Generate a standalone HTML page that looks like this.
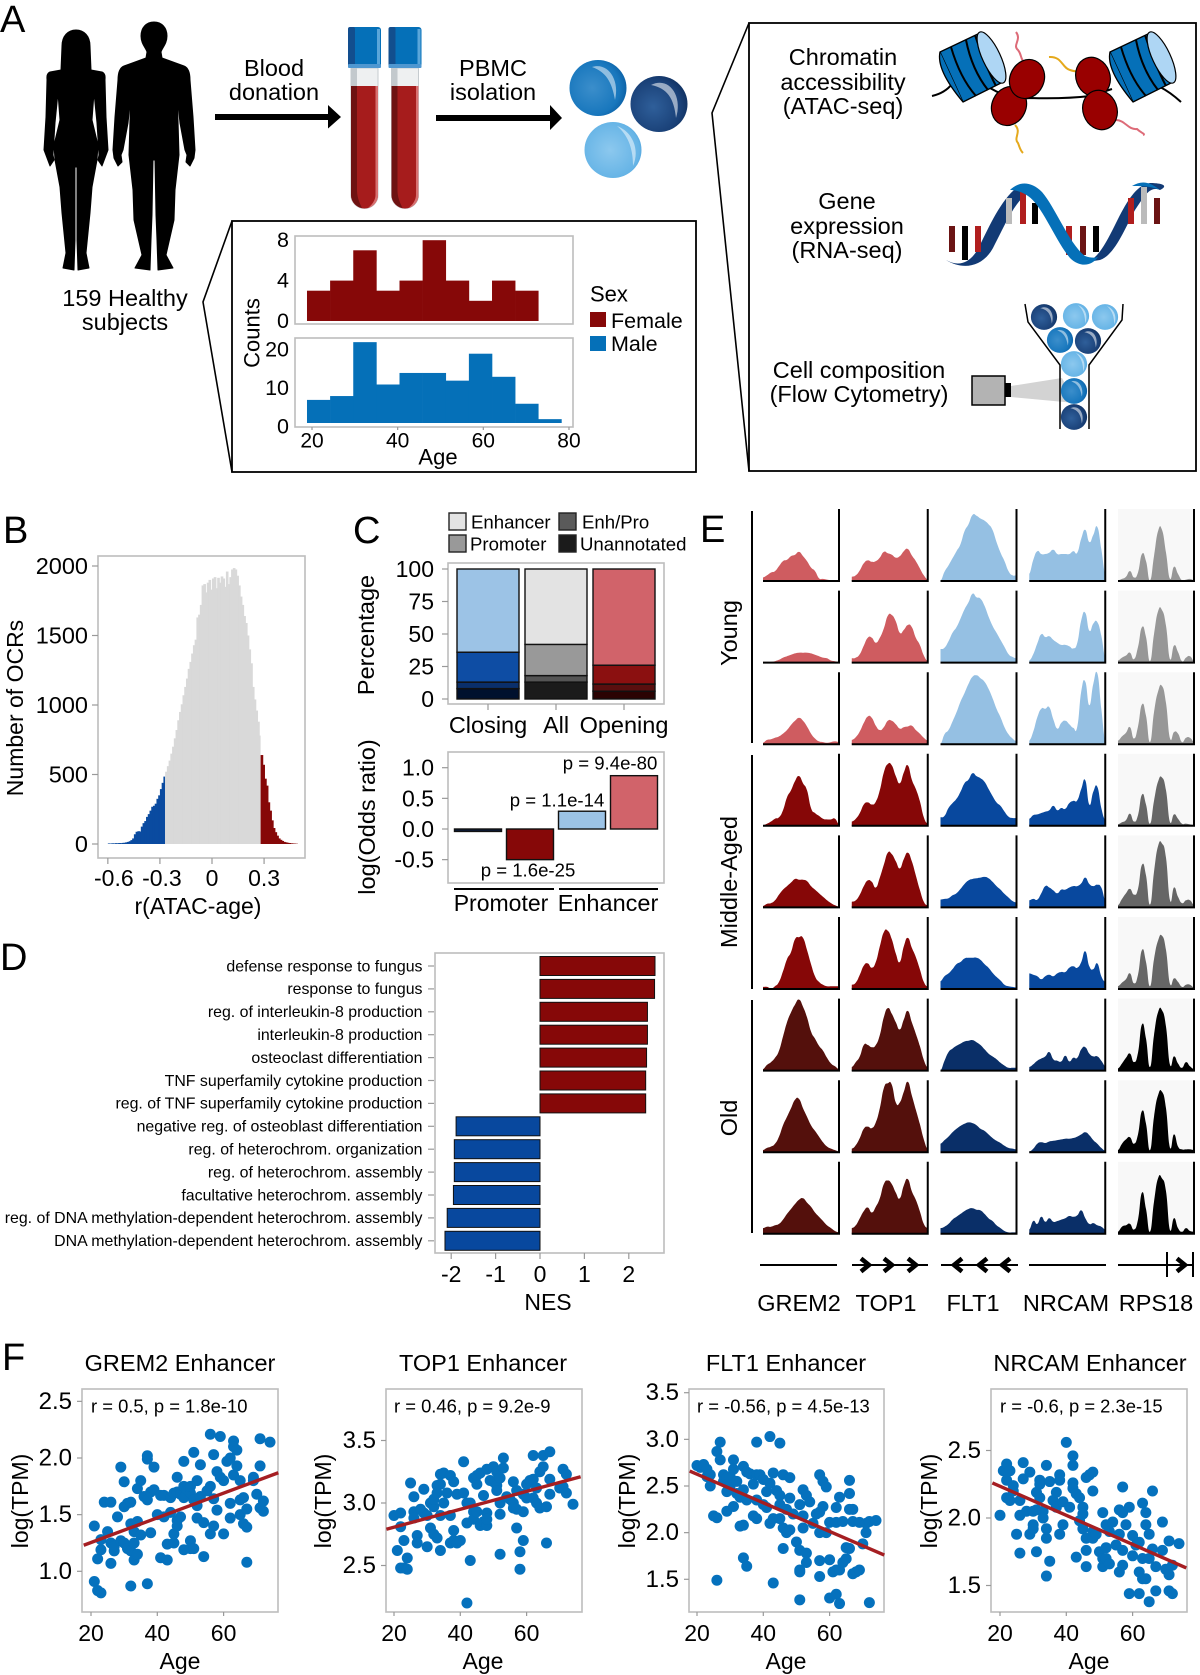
<!DOCTYPE html>
<html lang="en">
<head>
<meta charset="utf-8">
<title>Multi-panel aging epigenomics figure</title>
<style>
html,body{margin:0;padding:0;background:#fff;}
svg{display:block;font-family:"Liberation Sans",Arial,Helvetica,sans-serif;fill:#000;}
text{dominant-baseline:central;}
.pl{font-size:38px;}
.t{font-size:23.5px;text-anchor:middle;}
.s{font-size:18.6px;}
.f{fill:none;stroke:#bdbdbd;stroke-width:1.6;}
</style>
</head>
<body>
<svg id="fig" xmlns="http://www.w3.org/2000/svg" width="1200" height="1675" viewBox="0 0 1200 1675">
<defs>
<radialGradient id="gMid" cx="40%" cy="50%" r="60%"><stop offset="0" stop-color="#3b8ecb"/><stop offset="0.8" stop-color="#1877bd"/><stop offset="1" stop-color="#0d63a8"/></radialGradient>
<radialGradient id="gDark" cx="40%" cy="55%" r="60%"><stop offset="0" stop-color="#2f5f9a"/><stop offset="0.8" stop-color="#1a4178"/><stop offset="1" stop-color="#123465"/></radialGradient>
<radialGradient id="gLight" cx="45%" cy="50%" r="60%"><stop offset="0" stop-color="#8cc8ee"/><stop offset="0.85" stop-color="#66b4e6"/><stop offset="1" stop-color="#4a9fda"/></radialGradient>
<g id="cell-mid"><ellipse rx="28.5" ry="28" fill="url(#gMid)"/><path d="M-6,-21 C10,-26 22,-8 17,12 C14,-6 8,-16 -6,-21Z" fill="#fff" opacity=".5"/></g>
<g id="cell-dark"><ellipse rx="28.5" ry="28" fill="url(#gDark)"/><path d="M-8,-19 C10,-28 24,-8 17,14 C15,-6 8,-16 -8,-19Z" fill="#fff" opacity=".55"/></g>
<g id="cell-light"><ellipse rx="28.5" ry="28" fill="url(#gLight)"/><path d="M4,-24 C20,-18 27,0 20,16 C20,0 16,-14 4,-24Z" fill="#fff" opacity=".5"/></g>
<g id="tube">
<path d="M351,68 V195 A13.5,13.5 0 0 0 378,195 V68 Z" fill="#eef0f1" stroke="#c5cbcf" stroke-width="1"/>
<rect x="351" y="68" width="6" height="18" fill="#c3c9cd"/>
<path d="M351,86 V195 A13.5,13.5 0 0 0 378,195 V86 Z" fill="#a61c1c"/>
<path d="M351,86 V195 A13.5,13.5 0 0 0 362,208 C358,200 357,195 357,190 V86 Z" fill="#6e1212"/>
<path d="M375.5,86 V195 C375.5,200 372,205 368,208 A13.5,13.5 0 0 0 378,195 V86 Z" fill="#d87070"/>
<rect x="348" y="27" width="33" height="41" rx="3" fill="#0570b8"/>
<rect x="348" y="27" width="7" height="41" rx="2" fill="#124e8e"/>
<rect x="377" y="29" width="3" height="36" fill="#5aa6da"/>
<rect x="348" y="64" width="33" height="4" rx="1" fill="#4f97d0"/>
</g>
<g id="nucleosome">
<polygon points="940,52 980,33 1003,82 963,102" fill="#0570b8" stroke="#000" stroke-width="1.3" stroke-linejoin="round"/>
<path d="M940,52 Q936,70 963,102" fill="#0570b8" stroke="#000" stroke-width="1.3"/>
<path d="M951,47 Q960,78 976,96 M966,40 Q972,70 988,90 M975,35 Q985,65 996,86" fill="none" stroke="#000" stroke-width="2"/>
<ellipse cx="991.5" cy="57.5" rx="9" ry="28" transform="rotate(-25 991.5 57.5)" fill="#aed6f4" stroke="#000" stroke-width="1.2"/>
</g>
</defs>

<!-- PANEL A -->
<g>
<text class="pl" x="0" y="20">A</text>
<path fill="#000" stroke="#000" stroke-linejoin="round" d="M76,30 C68,30 62,36 62,46 L61,70 L50,72 C46,74 47,78 47,80 L46,117 L44,150 L47,158 L50,166 L54,160 L53,155 L55,123 L58,93 L60,120 L54,145 L55,160 L60,187 L62,213 L66,253 L63,268 L74,270 L75,240 L75,167 L77,167 L77,240 L78,270 L89,268 L86,253 L90,213 L92,187 L97,160 L98,145 L92,120 L94,93 L97,123 L99,155 L98,160 L102,166 L105,158 L108,150 L106,117 L105,80 C105,78 106,74 102,72 L91,70 L90,46 C90,36 84,30 76,30Z"/>
<path fill="#000" stroke="#000" stroke-linejoin="round" d="M154,22 C146,22 141,28 141,36 C141,44 146,48 147,52 L146,58 L124,66 C119,68 118,74 118,80 L115,117 L113,150 L114,158 L118,166 L122,162 L121,155 L123,150 L128,123 L131,95 L130,120 L129,155 L133,190 L134,220 L142,255 L135,268 L150,270 L151,240 L152,215 L153,160 L155,160 L156,215 L157,240 L158,270 L173,268 L166,255 L174,220 L175,190 L179,155 L178,120 L177,95 L180,123 L185,150 L187,155 L186,162 L190,166 L194,158 L195,150 L193,117 L190,80 C190,74 189,68 184,66 L162,58 L161,52 C162,48 167,44 167,36 C167,28 162,22 154,22Z"/>
<text class="t" x="125" y="298">159 Healthy</text>
<text class="t" x="125" y="322">subjects</text>
<path d="M215,114 H328 V105 L341,117 L328,128.500 V120 H215Z" fill="#000"/>
<text class="t" x="274" y="68">Blood</text>
<text class="t" x="274" y="92">donation</text>
<use href="#tube"/>
<use href="#tube" x="40.500"/>
<path d="M436,115 H550 V105 L562,118 L550,130 V121 H436Z" fill="#000"/>
<text class="t" x="493" y="68">PBMC</text>
<text class="t" x="493" y="92">isolation</text>
<use href="#cell-mid" x="598" y="88"/>
<use href="#cell-dark" x="659" y="104"/>
<use href="#cell-light" x="613" y="150"/>
<polyline points="232,221 203,302 232,472" fill="none" stroke="#000" stroke-width="1.6"/>
<rect x="232" y="221" width="464" height="251" fill="none" stroke="#000" stroke-width="1.8"/>
<rect class="f" x="295" y="236" width="278" height="88"/>
<rect class="f" x="295" y="338" width="278" height="89"/>
<g id="ageHist"></g>
<text x="252" y="333" transform="rotate(-90 252 333)" style="font-size:22px;text-anchor:middle">Counts</text>
<text x="438" y="457" style="font-size:22px;text-anchor:middle">Age</text>
<text x="590" y="294" style="font-size:22px">Sex</text>
<rect x="590" y="312" width="16" height="15" fill="#860808"/>
<text x="611" y="321" style="font-size:21.500px">Female</text>
<rect x="590" y="336" width="16" height="15" fill="#0570b8"/>
<text x="611" y="344" style="font-size:21.500px">Male</text>

<polyline points="749,23 712,113 749,471" fill="none" stroke="#000" stroke-width="1.6"/>
<rect x="749" y="23" width="447" height="448" fill="none" stroke="#000" stroke-width="1.8"/>
<text class="t" x="843" y="57">Chromatin</text>
<text class="t" x="843" y="82">accessibility</text>
<text class="t" x="843" y="106">(ATAC-seq)</text>
<text class="t" x="847" y="201">Gene</text>
<text class="t" x="847" y="226">expression</text>
<text class="t" x="847" y="250">(RNA-seq)</text>
<text class="t" x="859" y="370">Cell composition</text>
<text class="t" x="859" y="394">(Flow Cytometry)</text>

<g>
<path d="M932,96 Q945,93 952,84 M990,88 Q1010,100 1030,98 Q1065,99 1090,96 L1112,89 M1160,87 Q1170,92 1181,102" fill="none" stroke="#000" stroke-width="2"/>
<use href="#nucleosome"/>
<use href="#nucleosome" x="170"/>
<path d="M1016,32 C1022,40 1012,45 1018,50 C1022,55 1020,58 1024,62" fill="none" stroke="#dd6b78" stroke-width="2"/>
<path d="M1049,57 C1062,56 1062,68 1070,70 C1076,72 1078,71 1076,71" fill="none" stroke="#e5a91c" stroke-width="2"/>
<path d="M1015,125 C1022,132 1013,138 1018,143 C1020,148 1020,150 1023,153" fill="none" stroke="#e5a91c" stroke-width="2"/>
<path d="M1116,120 C1125,120 1128,130 1137,129 C1141,133 1146,134 1143,135" fill="none" stroke="#dd6b78" stroke-width="2"/>
<ellipse cx="1009" cy="106" rx="17" ry="20" transform="rotate(25 1009 106)" fill="#990000" stroke="#000" stroke-width="1.2"/>
<ellipse cx="1027" cy="79" rx="17" ry="20" transform="rotate(25 1027 79)" fill="#990000" stroke="#000" stroke-width="1.2"/>
<ellipse cx="1093" cy="77" rx="17" ry="20" transform="rotate(-20 1093 77)" fill="#990000" stroke="#000" stroke-width="1.2"/>
<ellipse cx="1100" cy="110" rx="17" ry="20" transform="rotate(-20 1100 110)" fill="#990000" stroke="#000" stroke-width="1.2"/>
</g>
<g>
<path d="M946,260 C960,268 972,262 980,245 C990,225 1003,195 1022,184 L1030,192 C1015,200 1005,225 993,248 C982,268 962,270 946,260Z" fill="#123a75"/>
<path d="M1087,262 C1098,258 1105,245 1115,225 C1125,205 1135,185 1150,183 C1160,183 1170,185 1160,190 C1150,186 1145,195 1135,210 C1125,228 1115,255 1100,260Z" fill="#123a75"/>
<g stroke-width="6" fill="none">
<path d="M952,226 V252" stroke="#6b1414"/><path d="M965,226 V260" stroke="#000"/><path d="M978,226 V252" stroke="#b01e1e"/>
<path d="M1009,198 V224" stroke="#bbb"/><path d="M1023,190 V224" stroke="#b01e1e"/><path d="M1035,203 V224" stroke="#000"/>
<path d="M1069,226 V255" stroke="#b01e1e"/><path d="M1083,226 V255" stroke="#6b1414"/><path d="M1096,226 V252" stroke="#000"/>
<path d="M1131,198 V224" stroke="#b01e1e"/><path d="M1144,187 V224" stroke="#bbb"/><path d="M1157,198 V224" stroke="#6b1414"/>
</g>
<path d="M1010,190 C1018,182 1030,180 1042,192 C1055,207 1070,245 1085,256 C1090,258 1095,258 1098,257 C1092,266 1080,268 1070,258 C1055,240 1042,205 1028,196 C1022,192 1016,190 1010,190Z" fill="#0570b8"/>
<path d="M1132,186 C1142,180 1150,182 1160,190 C1150,186 1140,186 1132,186Z" fill="#0570b8"/>
</g>
<g>
<polygon points="1011,386 1062,378 1075,403 1011,397" fill="#d3d3d3"/>
<rect x="972" y="376" width="33" height="29" fill="#b3b3b3" stroke="#000" stroke-width="1.5"/>
<rect x="1005" y="383" width="6" height="14" fill="#000"/>
<polyline points="1025,304 1028,322 1060,365 1060,429" fill="none" stroke="#000" stroke-width="1.5"/>
<polyline points="1123,304 1122,320 1089,365 1089,429" fill="none" stroke="#000" stroke-width="1.5"/>
<use href="#cell-dark" transform="translate(1044,317) scale(.46)"/>
<use href="#cell-light" transform="translate(1076,316) scale(.46)"/>
<use href="#cell-light" transform="translate(1105,317) scale(.46)"/>
<use href="#cell-mid" transform="translate(1060,340) scale(.46)"/>
<use href="#cell-dark" transform="translate(1088,341) scale(.46)"/>
<use href="#cell-light" transform="translate(1074,364) scale(.46)"/>
<use href="#cell-mid" transform="translate(1074,391) scale(.46)"/>
<use href="#cell-dark" transform="translate(1074,417) scale(.46)"/>
</g>
</g>

<!-- PANEL B -->
<g>
<text class="pl" x="3" y="531">B</text>
<rect class="f" x="98" y="556" width="207" height="302"/>
<g id="corrHist"></g>
<text x="15" y="708" transform="rotate(-90 15 708)" style="font-size:23px;text-anchor:middle">Number of OCRs</text>
<text x="198" y="906" style="font-size:23px;text-anchor:middle">r(ATAC-age)</text>
</g>

<!-- PANEL C -->
<g>
<text class="pl" x="353" y="531">C</text>
<rect x="449" y="513" width="17" height="17" fill="#e3e3e3" stroke="#222" stroke-width="1.4"/>
<text class="s" x="471" y="522">Enhancer</text>
<rect x="449" y="535" width="17" height="17" fill="#999" stroke="#222" stroke-width="1.4"/>
<text class="s" x="470" y="544">Promoter</text>
<rect x="559" y="513" width="17" height="17" fill="#5a5a5a" stroke="#222" stroke-width="1.4"/>
<text class="s" x="582" y="522">Enh/Pro</text>
<rect x="559" y="535" width="17" height="17" fill="#1b1b1b" stroke="#222" stroke-width="1.4"/>
<text class="s" x="580" y="544">Unannotated</text>
<rect class="f" x="448" y="563" width="216" height="141"/>
<g id="pctChart"></g>
<text x="366" y="635" transform="rotate(-90 366 635)" style="font-size:23.500px;text-anchor:middle">Percentage</text>
<rect class="f" x="448" y="752" width="216" height="131"/>
<g id="oddsChart"></g>
<text x="367" y="817" transform="rotate(-90 367 817)" style="font-size:23.500px;text-anchor:middle">log(Odds ratio)</text>
<text class="s" x="610" y="763" style="text-anchor:middle">p = 9.4e-80</text>
<text class="s" x="557" y="800" style="text-anchor:middle">p = 1.1e-14</text>
<text class="s" x="528" y="870" style="text-anchor:middle">p = 1.6e-25</text>
<path d="M454,889 H554" stroke="#000" stroke-width="2"/>
<path d="M559,889 H658" stroke="#000" stroke-width="2"/>
<text x="501" y="903" style="font-size:23px;text-anchor:middle">Promoter</text>
<text x="608" y="903" style="font-size:23.500px;text-anchor:middle">Enhancer</text>
</g>

<!-- PANEL D -->
<g>
<text class="pl" x="0" y="958">D</text>
<rect class="f" x="435" y="953" width="229" height="300"/>
<g id="nesChart"></g>
<text x="548" y="1302" style="font-size:23px;text-anchor:middle">NES</text>
</g>

<!-- PANEL E -->
<g>
<text class="pl" x="700" y="530">E</text>
<path d="M752,511 V743" stroke="#000" stroke-width="2"/>
<path d="M752,755 V989" stroke="#000" stroke-width="2"/>
<path d="M752,1000 V1233" stroke="#000" stroke-width="2"/>
<text x="729" y="633" transform="rotate(-90 729 633)" style="font-size:23.500px;text-anchor:middle">Young</text>
<text x="729" y="882" transform="rotate(-90 729 882)" style="font-size:23.500px;text-anchor:middle">Middle-Aged</text>
<text x="729" y="1118" transform="rotate(-90 729 1118)" style="font-size:23.500px;text-anchor:middle">Old</text>
<g id="tracks"></g>
<g fill="none" stroke="#000">
<path d="M760,1265 H837" stroke-width="2"/>
<path d="M852,1265 H928" stroke-width="2"/>
<path d="M861,1258.500 L869,1265 L861,1271.500 M884,1258.500 L892,1265 L884,1271.500 M908,1258.500 L916,1265 L908,1271.500" stroke-width="4.500"/>
<path d="M941,1265 H1018" stroke-width="2"/>
<path d="M962,1258.500 L954,1265 L962,1271.500 M987,1258.500 L979,1265 L987,1271.500 M1010,1258.500 L1002,1265 L1010,1271.500" stroke-width="4.500"/>
<path d="M1029,1265 H1106" stroke-width="2"/>
<path d="M1118,1265 H1193 M1167,1252 V1277 M1193,1252 V1277" stroke-width="2"/>
<path d="M1177,1258.500 L1185,1265 L1177,1271.500" stroke-width="4.500"/>
</g>
<text x="799" y="1303" style="font-size:23.500px;text-anchor:middle">GREM2</text>
<text x="886" y="1303" style="font-size:23.500px;text-anchor:middle">TOP1</text>
<text x="973" y="1303" style="font-size:23.500px;text-anchor:middle">FLT1</text>
<text x="1066" y="1303" style="font-size:23.500px;text-anchor:middle">NRCAM</text>
<text x="1156" y="1303" style="font-size:23.500px;text-anchor:middle">RPS18</text>
</g>

<!-- PANEL F -->
<g>
<text class="pl" x="2" y="1358">F</text>
<g id="scatters"></g>
<text x="180" y="1363" style="font-size:23.500px;text-anchor:middle">GREM2 Enhancer</text>
<text x="483" y="1363" style="font-size:23.500px;text-anchor:middle">TOP1 Enhancer</text>
<text x="786" y="1363" style="font-size:23.500px;text-anchor:middle">FLT1 Enhancer</text>
<text x="1090" y="1363" style="font-size:23.500px;text-anchor:middle">NRCAM Enhancer</text>
<text x="91" y="1406" style="font-size:18.400px">r = 0.5, p = 1.8e-10</text>
<text x="394" y="1406" style="font-size:18.400px">r = 0.46, p = 9.2e-9</text>
<text x="697" y="1406" style="font-size:18.400px">r = -0.56, p = 4.5e-13</text>
<text x="1000" y="1406" style="font-size:18.400px">r = -0.6, p = 2.3e-15</text>
</g>
</svg>

<script>
// ---------- Panel A data ----------
const femaleCounts = [3,4,7,3,4,8,4,2,4,3];
const maleCounts = [6,7,21,10,13,13,11,18,12,5,1];
const ageBinStart = 18.83;
const ageBinWidth = 5.4;
const ageTicks = [20,40,60,80];
const femaleTicks = [0,4,8];
const maleTicks = [0,10,20];

// ---------- Panel B data (bins of 0.01 from r = -0.60) ----------
const corrBinStart = -0.60;
const corrBinWidth = 0.01;
const corrCounts = [
4,3,5,4,6,5,7,6,8,9,
12,15,20,28,40,
70,88,92,90,125,
150,165,195,215,240,
268,275,290,325,350,
395,440,485,
520,560,600,650,700,760,820,890,
950,1005,1070,1130,1190,1260,1310,1370,1430,1470,
1630,1650,1720,1860,1870,
1810,1880,1900,1830,1910,1920,1840,1915,1880,1925,
1910,1850,1960,1870,1920,1975,1985,1975,1930,1860,
1780,1720,1640,1590,1500,
1400,1300,1130,1040,960,880,780,
640,570,470,420,300,240,170,115,85,60,40,30,22,15,12,9,7,5,4,3,2];
const corrXTicks = [-0.6,-0.3,0,0.3];
const corrXLabels = ['-0.6','-0.3','0','0.3'];
const corrYTicks = [0,500,1000,1500,2000];

// ---------- Panel C data ----------
const pctCategories = ['Closing','All','Opening'];
const pctUnannotated = [8,13,6];
const pctEnhPro = [5,5,5.5];
const pctPromoter = [23,24,14.5];
const pctEnhancer = [64,58,74];
const pctTicks = [0,25,50,75,100];
const oddsValues = [-0.04,-0.5,0.29,0.87];
const oddsTicks = [-0.5,0,0.5,1];
const oddsTickLabels = ['-0.5','0.0','0.5','1.0'];

// ---------- Panel D data ----------
const nesTerms = ['defense response to fungus','response to fungus','reg. of interleukin-8 production','interleukin-8 production','osteoclast differentiation','TNF superfamily cytokine production','reg. of TNF superfamily cytokine production','negative reg. of osteoblast differentiation','reg. of heterochrom. organization','reg. of heterochrom. assembly','facultative heterochrom. assembly','reg. of DNA methylation-dependent heterochrom. assembly','DNA methylation-dependent heterochrom. assembly'];
const nesValues = [2.59,2.58,2.42,2.42,2.40,2.38,2.38,-1.89,-1.93,-1.93,-1.95,-2.09,-2.14];
const nesTicks = [-2,-1,0,1,2];

// ---------- Panel E data (each row = one sample; values = % of track height) ----------
const trackGrem2 = [
[5,8,12,14,21,28,30,35,37,41,35,28,19,14,4,3,2,1,1,1],
[1,1,1,2,4,7,9,11,13,14,14,14,13,11,9,7,6,3,2,1],
[2,6,7,9,11,15,20,27,33,37,33,25,15,8,4,3,2,3,4,3],
[1,3,6,10,12,22,40,50,63,70,60,50,25,18,14,10,9,9,10,2],
[2,5,6,10,18,25,30,35,40,39,39,37,30,25,20,15,10,6,3,1],
[3,3,1,4,10,25,42,52,70,73,72,55,35,18,10,6,4,4,4,4],
[2,8,12,18,28,48,68,82,93,100,90,75,55,45,35,28,18,10,6,2],
[3,6,8,12,22,38,50,62,74,75,62,50,38,30,22,14,8,5,3,1],
[8,10,10,12,14,20,28,35,42,48,50,44,38,30,24,18,12,8,4,2]];
const trackTop1 = [
[6,8,15,25,29,27,28,33,41,39,37,33,35,42,45,36,28,18,8,2],
[6,7,12,24,35,35,28,35,48,66,67,58,42,46,53,50,35,25,10,2],
[6,10,18,30,39,37,26,20,24,33,33,28,22,24,25,26,20,15,9,5],
[6,10,18,30,33,30,34,50,75,87,85,70,60,75,85,65,52,35,12,3],
[8,10,18,30,38,36,28,42,60,77,75,65,55,68,77,65,45,25,8,3],
[6,9,20,33,36,30,38,60,80,82,70,50,38,60,72,58,45,28,10,3],
[5,12,20,36,36,33,36,50,75,88,80,68,58,72,84,68,52,35,15,4],
[5,10,20,33,36,34,42,62,90,97,95,70,70,85,99,80,60,40,18,4],
[8,12,22,32,37,30,38,50,70,75,70,58,50,68,77,60,48,32,14,8]];
const trackFlt1 = [
[0,13,22,32,42,52,70,80,93,92,88,85,80,72,55,40,28,14,8,8],
[19,21,30,42,50,62,75,85,97,92,90,80,65,52,42,32,22,12,8,6],
[0,14,20,32,45,60,72,85,95,97,93,88,78,65,50,38,24,14,8,4],
[12,14,25,32,38,48,60,65,74,70,67,62,52,42,33,28,20,13,11,11],
[11,12,13,17,20,26,33,38,40,41,42,43,41,36,30,25,19,14,9,7],
[11,18,22,28,35,38,43,44,44,44,41,35,30,23,17,12,6,4,3,2],
[0,14,26,31,35,38,41,42,43,40,36,30,24,20,16,11,7,4,4,4],
[12,17,22,28,33,37,40,42,41,38,33,30,25,20,16,13,9,6,5,4],
[8,10,14,20,24,28,32,35,36,34,33,28,22,18,12,8,4,2,2,2]];
const trackNrcam = [
[10,30,42,38,38,40,44,38,38,38,38,42,40,60,72,55,65,76,45,8],
[3,12,27,40,36,37,32,28,25,25,23,20,28,60,70,45,55,57,38,6],
[5,18,38,50,50,52,35,22,30,33,28,23,25,75,88,55,85,100,50,4],
[10,15,16,18,20,22,28,22,25,24,32,35,36,52,64,30,48,55,25,8],
[10,12,11,20,30,28,24,20,25,25,28,30,30,34,42,33,30,32,28,10],
[22,20,18,14,18,20,18,22,24,24,30,32,30,38,53,32,28,36,18,10],
[5,9,14,17,20,26,16,14,13,21,13,18,18,30,33,24,20,20,14,6],
[1,5,12,14,13,15,16,17,18,19,19,20,22,25,28,24,17,12,6,2],
[6,18,14,24,17,22,17,18,20,22,25,24,26,33,22,14,15,12,10,6]];
const trackRps18 = [
[1,3,6,14,5,12,38,28,1,35,70,72,40,3,20,10,1,2,3,1],
[3,7,10,14,5,22,50,36,2,40,72,74,52,5,24,15,2,7,9,2],
[5,11,16,24,8,25,56,40,3,45,74,82,58,8,17,15,3,9,9,3],
[2,5,8,17,6,15,44,30,3,35,62,68,50,5,16,10,3,3,2,1],
[3,12,20,26,18,26,60,45,4,50,86,90,70,10,28,15,6,10,10,3],
[4,9,14,22,8,20,55,38,4,42,68,75,55,7,15,10,3,6,6,2],
[3,10,18,24,12,25,65,45,5,50,82,85,62,8,20,10,4,12,6,2],
[3,12,18,21,12,25,58,40,3,50,80,85,62,6,25,8,4,4,4,3],
[3,10,12,14,6,20,58,35,3,45,78,78,60,5,22,8,3,8,4,3]];

// ---------- Panel F data: [age, log(TPM)] ----------
const grem2Points = [[21,.91],[22,.83],[23,.81],[22,1.11],[21,1.40],[23,1.19],[23,1.28],[24,1.61],[25,1.35],[26,1.61],[26,1.07],[26,1.25],[27,1.18],[27,1.22],[28,1.48],[29,1.27],[29,1.92],[30,1.57],[30,1.79],[30,1.25],[31,1.20],[31,1.60],[32,1.18],[32,1.61],[32,.87],[32,1.42],[33,1.35],[33,1.10],[33,1.25],[34,1.15],[34,1.44],[34,1.73],[35,1.80],[35,1.32],[36,1.66],[37,1.99],[37,2.02],[37,.89],[37,1.63],[38,1.34],[38,1.70],[39,1.92],[39,1.72],[40,1.50],[41,1.67],[41,1.12],[42,1.48],[42,1.67],[43,1.10],[43,1.24],[44,1.52],[44,1.65],[45,1.25],[45,1.69],[45,1.33],[46,1.83],[46,1.70],[46,1.45],[46,1.40],[47,1.68],[47,1.48],[48,1.97],[48,1.19],[48,1.75],[48,1.65],[49,1.72],[50,1.69],[50,1.27],[50,1.75],[50,1.20],[51,2.05],[51,1.63],[51,1.20],[52,1.80],[52,1.58],[52,1.47],[53,1.94],[53,1.66],[54,1.43],[54,1.13],[55,1.71],[56,2.21],[56,1.33],[56,1.75],[57,1.40],[57,2.03],[57,1.64],[58,1.54],[58,1.88],[59,1.83],[59,2.19],[60,1.33],[60,1.80],[61,1.97],[62,2.00],[62,1.60],[62,1.47],[63,1.85],[63,2.15],[63,2.10],[64,2.07],[64,1.93],[65,1.80],[65,1.50],[65,1.63],[66,1.65],[66,1.42],[67,1.08],[67,1.55],[67,1.39],[69,1.83],[69,1.80],[70,1.68],[71,1.93],[71,2.17],[71,1.56],[72,1.62],[72,1.53],[74,2.14]];
const top1Points = [[20,2.90],[21,2.62],[22,2.48],[22,2.81],[22,2.92],[23,2.70],[23,2.48],[24,2.56],[24,2.47],[25,3.16],[26,3.05],[26,2.93],[26,2.88],[27,2.74],[27,2.68],[28,2.95],[29,3.11],[29,2.92],[30,2.65],[30,2.90],[31,3.00],[31,2.80],[32,2.75],[32,2.97],[32,3.03],[33,3.14],[33,2.72],[33,3.08],[34,3.23],[34,2.90],[34,2.62],[34,3.15],[35,3.24],[35,3.00],[36,3.08],[37,3.22],[37,2.68],[37,2.90],[38,2.78],[38,3.17],[38,2.70],[39,2.68],[39,3.07],[40,2.70],[41,3.33],[41,3.08],[42,2.84],[42,3.00],[42,2.20],[43,3.00],[43,2.54],[44,2.93],[44,3.20],[44,2.87],[45,3.15],[45,3.22],[45,2.93],[46,3.24],[46,2.82],[47,3.06],[47,2.85],[48,3.27],[48,2.92],[48,2.82],[48,2.87],[49,3.18],[50,3.29],[50,3.17],[51,3.14],[51,3.10],[51,3.25],[52,3.20],[52,3.00],[52,2.59],[52,2.91],[53,3.28],[53,3.36],[54,3.05],[55,3.03],[56,3.00],[56,3.17],[56,2.96],[57,2.80],[57,3.10],[57,2.95],[58,2.61],[58,2.47],[59,3.07],[59,2.70],[59,2.93],[60,3.15],[60,3.04],[61,3.18],[62,3.38],[62,3.19],[62,3.04],[63,3.00],[63,3.12],[64,3.25],[64,2.96],[65,3.29],[65,3.38],[66,2.68],[66,2.97],[67,3.41],[67,3.19],[67,3.07],[70,3.12],[71,3.27],[71,3.13],[72,3.23],[72,3.08],[74,2.99]];
const flt1Points = [[20,2.72],[21,2.70],[22,2.73],[23,2.68],[23,2.60],[24,2.62],[24,2.50],[25,2.18],[26,2.16],[26,2.87],[27,2.97],[27,2.78],[26,1.49],[28,2.62],[28,2.55],[29,2.59],[29,2.44],[29,2.23],[30,2.60],[30,2.50],[31,2.28],[31,2.78],[31,2.68],[32,2.55],[32,2.42],[33,2.07],[33,2.38],[34,2.71],[34,2.08],[34,2.46],[34,1.73],[35,2.65],[35,1.64],[35,2.35],[36,2.63],[37,2.52],[37,2.18],[38,2.97],[38,2.62],[38,2.15],[38,2.35],[39,2.62],[40,2.57],[40,2.30],[41,2.44],[41,2.27],[42,3.03],[42,2.53],[42,2.10],[43,2.64],[43,1.46],[43,2.15],[44,2.45],[45,2.96],[45,2.40],[45,2.15],[45,2.30],[46,2.62],[46,2.05],[46,1.83],[47,2.00],[47,2.25],[48,2.59],[48,2.37],[48,2.03],[49,2.20],[50,1.90],[51,1.58],[51,1.60],[51,2.30],[51,1.28],[51,1.81],[52,2.46],[52,2.18],[52,2.05],[53,2.40],[53,1.78],[53,1.68],[54,2.33],[55,2.10],[56,2.20],[57,2.62],[57,2.22],[57,2.00],[57,1.70],[57,1.53],[58,2.55],[58,2.28],[59,2.00],[59,2.49],[60,1.71],[60,1.30],[60,2.11],[61,1.58],[62,1.60],[62,1.34],[62,2.27],[62,2.11],[63,2.38],[63,1.60],[63,1.24],[64,2.12],[64,1.68],[65,1.84],[65,1.72],[66,2.42],[66,2.56],[66,2.25],[66,1.83],[67,1.56],[67,2.25],[67,2.12],[68,1.58],[69,1.60],[69,2.11],[70,1.88],[71,2.00],[71,2.10],[72,2.12],[72,1.25],[74,2.13]];
const nrcamPoints = [[20,2.02],[21,2.35],[22,2.40],[22,2.28],[22,2.15],[23,2.35],[23,2.13],[24,2.24],[24,2.20],[25,1.88],[26,1.74],[26,2.02],[26,2.13],[27,2.41],[27,2.29],[28,2.05],[29,2.34],[29,1.88],[30,1.92],[30,2.05],[30,1.95],[31,2.06],[31,1.75],[31,2.19],[32,2.28],[32,2.25],[32,2.15],[33,2.05],[33,2.00],[34,2.39],[34,1.57],[34,1.85],[34,1.92],[35,2.27],[35,1.68],[36,2.13],[37,2.19],[37,2.08],[38,2.32],[38,2.28],[38,1.88],[39,2.12],[39,1.95],[40,2.56],[41,2.08],[42,2.46],[42,2.39],[42,2.26],[42,2.22],[43,2.18],[43,1.71],[44,2.15],[44,1.98],[45,2.08],[45,2.03],[45,1.92],[46,2.30],[46,1.64],[46,1.76],[46,1.85],[47,2.32],[48,2.34],[48,2.20],[48,1.85],[48,1.90],[49,1.88],[50,1.75],[51,2.04],[51,1.64],[51,1.70],[52,1.95],[52,1.78],[52,1.70],[53,1.90],[53,1.66],[54,1.97],[55,1.80],[56,2.06],[56,1.60],[56,1.88],[57,2.23],[57,2.04],[57,1.76],[57,1.65],[58,1.95],[59,2.08],[59,1.44],[60,1.87],[60,1.72],[61,1.80],[62,1.44],[62,1.60],[62,1.82],[63,2.11],[63,1.70],[63,1.55],[64,2.04],[64,1.55],[64,1.95],[65,1.70],[65,1.38],[65,1.88],[66,2.20],[66,1.77],[67,1.64],[67,1.46],[69,1.97],[69,1.76],[70,1.62],[71,1.58],[71,1.83],[71,1.46],[72,1.44],[72,1.65],[74,1.81]];
const grem2Fit = [[17.8,1.23],[76.5,1.87]];
const top1Fit = [[17.7,2.79],[76.3,3.21]];
const flt1Fit = [[17.8,2.66],[76.5,1.76]];
const nrcamFit = [[17.7,2.26],[76.2,1.63]];
const scatterAgeTicks = [20,40,60];
const grem2TpmTicks = [1,1.5,2,2.5];
const top1TpmTicks = [2.5,3,3.5];
const flt1TpmTicks = [1.5,2,2.5,3,3.5];
const nrcamTpmTicks = [1.5,2,2.5];

// ---------- helpers ----------
const NS = 'http://www.w3.org/2000/svg';
function el(tag, attrs, parent) {
  const n = document.createElementNS(NS, tag);
  for (const k in attrs) n.setAttribute(k, attrs[k]);
  parent.appendChild(n);
  return n;
}
function hTick(parent, x1, x2, y, name) {
  const t = el('line', {x1: x1, x2: x2, y1: y, y2: y, stroke: '#999', 'stroke-width': 1.2}, parent);
  
  
}
function vTick(parent, x, y1, y2, name) {
  const t = el('line', {x1: x, x2: x, y1: y1, y2: y2, stroke: '#999', 'stroke-width': 1.2}, parent);
  
  
}
function label(parent, x, y, str, size, anchor, name) {
  const t = el('text', {x: x, y: y, style: 'font-size:' + size + 'px;text-anchor:' + anchor}, parent);
  t.textContent = str;
  
  
  return t;
}
function bar(parent, x, y, w, h, fill, stroke, sw, name) {
  const r = el('rect', {x: x, y: y, width: w, height: h, fill: fill}, parent);
  if (stroke) { r.setAttribute('stroke', stroke); r.setAttribute('stroke-width', sw); }
  
  
  return r;
}

// ---------- Panel A ----------
(function () {
  const g = document.getElementById('ageHist');
  const xAge = a => 312 + (a - 20) * 4.283;
  const yFemale = v => 321 - v * 10.1;
  const yMale = v => 423 - v * 3.85;
  femaleCounts.forEach((c, i) => {
    const a = ageBinStart + i * ageBinWidth;
    bar(g, xAge(a), yFemale(c), xAge(a + ageBinWidth) - xAge(a) + 0.3, yFemale(0) - yFemale(c), '#860808', null, 0, 'female-bar-' + i);
  });
  maleCounts.forEach((c, i) => {
    const a = ageBinStart + i * ageBinWidth;
    bar(g, xAge(a), yMale(c), xAge(a + ageBinWidth) - xAge(a) + 0.3, yMale(0) - yMale(c), '#0570b8', null, 0, 'male-bar-' + i);
  });
  femaleTicks.forEach(v => {
    label(g, 289, yFemale(v), String(v), 21.5, 'end', 'female-y-tick-' + v);
  });
  maleTicks.forEach(v => {
    label(g, 289, yMale(v) + 3.5, String(v), 21.5, 'end', 'male-y-tick-' + v);
  });
  ageTicks.forEach(v => {
    vTick(g, xAge(v), 427, 430, 'age-tick-mark-' + v);
    label(g, xAge(v), 441, String(v), 21, 'middle', 'age-tick-' + v);
  });
})();

// ---------- Panel B ----------
(function () {
  const g = document.getElementById('corrHist');
  const xR = r => 212 + r * 173.6;
  const yN = n => 844 - n * 0.139;
  corrCounts.forEach((n, i) => {
    const r = corrBinStart + i * corrBinWidth;
    const fill = r < -0.275 ? '#0a4ba0' : (r > 0.275 ? '#860808' : '#d9d9d9');
    const w = (r > -0.29 && r < -0.275) || (r > 0.265 && r < 0.275) ? 173.6 * corrBinWidth : 173.6 * corrBinWidth + 0.9;
    bar(g, xR(r), yN(n), w, yN(0) - yN(n), fill, null, 0, 'correlation-bar');
  });
  corrYTicks.forEach(v => {
    hTick(g, 92, 98, yN(v), 'correlation-y-tick-mark');
    label(g, 88, yN(v), String(v), 23.5, 'end', 'correlation-y-tick');
  });
  corrXTicks.forEach((v, i) => {
    vTick(g, xR(v), 858, 864, 'correlation-x-tick-mark');
    label(g, xR(v) + (i === 0 ? 6 : i === 1 ? 2 : 0), 878, corrXLabels[i], 23, 'middle', 'correlation-x-tick');
  });
})();

// ---------- Panel C ----------
(function () {
  const g = document.getElementById('pctChart');
  const yP = p => 699 - p * 1.3;
  const xC = i => 488 + 68 * i;
  const shades = [['#00112e','#0a2f6b','#0e4da4','#9cc3e6'],['#1b1b1b','#555555','#999999','#e3e3e3'],['#2b0303','#5a0f0f','#8b1010','#d1636a']];
  const layers = [pctUnannotated, pctEnhPro, pctPromoter, pctEnhancer];
  pctCategories.forEach((c, i) => {
    let base = 0;
    layers.forEach((layer, j) => {
      const v = layer[i];
      bar(g, xC(i) - 31, yP(base + v), 62, yP(base) - yP(base + v), shades[i][j], '#111', 1.4, 'percentage-segment-' + c.toLowerCase() + '-' + j);
      base += v;
    });
    vTick(g, xC(i), 704, 710, 'percentage-x-tick-mark');
    label(g, xC(i), 725, c, 23.5, 'middle', 'percentage-x-tick-' + c.toLowerCase());
  });
  pctTicks.forEach(v => {
    hTick(g, 442, 448, yP(v), 'percentage-y-tick-mark');
    label(g, 434, yP(v), String(v), 23, 'end', 'percentage-y-tick-' + v);
  });

  const h = document.getElementById('oddsChart');
  const yO = v => 829 - v * 61.3;
  const xO = i => 478 + 52 * i;
  const oddsFills = ['#0a1a3a','#860808','#9cc3e6','#d1636a'];
  oddsValues.forEach((v, i) => {
    const top = Math.min(yO(v), yO(0));
    const ht = Math.abs(yO(v) - yO(0));
    bar(h, xO(i) - 23.5, top, 47, ht, oddsFills[i], '#111', 1.4, 'odds-bar-' + i);
  });
  oddsTicks.forEach((v, i) => {
    hTick(h, 442, 448, yO(v), 'odds-y-tick-mark');
    label(h, 434, yO(v), oddsTickLabels[i], 23, 'end', 'odds-y-tick');
  });
})();

// ---------- Panel D ----------
(function () {
  const g = document.getElementById('nesChart');
  const xN = v => 540 + 44.4 * v;
  const yT = i => 966 + i * 22.9;
  nesTerms.forEach((term, i) => {
    const v = nesValues[i];
    const x = Math.min(xN(v), xN(0));
    bar(g, x, yT(i) - 9.5, Math.abs(xN(v) - xN(0)), 19, v > 0 ? '#860808' : '#08489e', '#111', 1, 'nes-bar-' + i);
    hTick(g, 428, 434, yT(i), 'nes-term-tick-mark');
    label(g, 422.5, yT(i) + 0.8, term, 15.9, 'end', 'nes-term-label-' + i);
  });
  nesTicks.forEach(v => {
    vTick(g, xN(v), 1253, 1259, 'nes-x-tick-mark');
    label(g, xN(v), 1274, String(v), 23, 'middle', 'nes-x-tick');
  });
})();

// ---------- Panel E ----------
(function () {
  const g = document.getElementById('tracks');
  const trackSets = [trackGrem2, trackTop1, trackFlt1, trackNrcam, trackRps18];
  const setNames = ['grem2','top1','flt1','nrcam','rps18'];
  const colLeft = c => 763 + c * 88.75;
  const rowBase = r => 581 + r * 81.6;
  const trackWidth = 76;
  const yScale = 71 / 100;
  const palette = [
    ['#cf5c60','#cf5c60','#95c0e3','#95c0e3','#979797'],
    ['#860707','#860707','#08489e','#08489e','#666666'],
    ['#54100c','#54100c','#0a2f68','#0a2f68','#000000']];
  trackSets.forEach((set, c) => {
    set.forEach((row, r) => {
      const x0 = colLeft(c);
      const base = rowBase(r);
      if (c === 4) {
        bar(g, x0, base - 72, trackWidth, 72, '#f8f8f8', null, 0, 'rps18-track-background');
      }
      const px = i => x0 + i * trackWidth / (row.length - 1);
      const py = i => base - row[Math.max(0, Math.min(row.length - 1, i))] * yScale;
      let d = 'M' + x0 + ',' + base + ' L' + px(0).toFixed(1) + ',' + py(0).toFixed(1);
      for (let i = 0; i < row.length - 1; i++) {
        const dx = (px(i + 1) - px(i)) / 2;
        const m0 = (py(i + 1) - py(i - 1)) / 4;
        const m1 = (py(i + 2) - py(i)) / 4;
        const lim = v => Math.max(base - 72 * 1.05, Math.min(base, v));
        d += ' C' + (px(i) + dx).toFixed(1) + ',' + lim(py(i) + m0).toFixed(1) + ' ' + (px(i + 1) - dx).toFixed(1) + ',' + lim(py(i + 1) - m1).toFixed(1) + ' ' + px(i + 1).toFixed(1) + ',' + py(i + 1).toFixed(1);
      }
      d += ' L' + (x0 + trackWidth) + ',' + base + 'Z';
      const shape = el('path', {d: d, fill: palette[Math.floor(r / 3)][c]}, g);
      
      
      const frame = el('path', {d: 'M' + x0 + ',' + base + ' H' + (x0 + trackWidth) + ' V' + (base - 72), fill: 'none', stroke: '#000', 'stroke-width': 2}, g);
      
      
    });
  });
})();

// ---------- Panel F ----------
function drawScatter(root, name, boxX, boxW, x20, yOf, points, fit, yTicks, titleX) {
  const g = el('g', {}, root);
  
  
  const xOf = a => x20 + (a - 20) * 3.315;
  const frame = el('rect', {x: boxX, y: 1389, width: boxW, height: 223, fill: 'none', stroke: '#bdbdbd', 'stroke-width': 1.6}, g);
  
  
  points.forEach(p => {
    const c = el('circle', {cx: xOf(p[0]), cy: yOf(p[1]), r: 5.5, fill: '#0571bd'}, g);
    
    
  });
  const line = el('line', {x1: xOf(fit[0][0]), y1: yOf(fit[0][1]), x2: xOf(fit[1][0]), y2: yOf(fit[1][1]), stroke: '#a51e22', 'stroke-width': 3.4}, g);
  
  
  scatterAgeTicks.forEach(v => {
    vTick(g, xOf(v), 1612, 1616, 'scatter-x-tick-mark-' + name);
    label(g, xOf(v), 1633, String(v), 23, 'middle', 'scatter-x-tick-' + name);
  });
  yTicks.forEach(v => {
    hTick(g, boxX - 5, boxX, yOf(v), 'scatter-y-tick-mark-' + name);
    label(g, boxX - 10, yOf(v), v.toFixed(1), 24, 'end', 'scatter-y-tick-' + name);
  });
  label(g, x20 + 66 + 23, 1661, 'Age', 23, 'middle', 'scatter-x-title-' + name);
  const yt = label(g, titleX, 1501, 'log(TPM)', 23, 'middle', 'scatter-y-title-' + name);
  yt.setAttribute('transform', 'rotate(-90 ' + titleX + ' 1501)');
}
(function () {
  const root = document.getElementById('scatters');
  drawScatter(root, 'grem2', 82, 196, 91, v => 1458 - (v - 2) * 113.3, grem2Points, grem2Fit, grem2TpmTicks, 20);
  drawScatter(root, 'top1', 386, 196, 394, v => 1503 - (v - 3) * 125, top1Points, top1Fit, top1TpmTicks, 323);
  drawScatter(root, 'flt1', 689, 195, 697, v => 1486 - (v - 2.5) * 93.3, flt1Points, flt1Fit, flt1TpmTicks, 627);
  drawScatter(root, 'nrcam', 991, 196, 1000, v => 1518 - (v - 2) * 135, nrcamPoints, nrcamFit, nrcamTpmTicks, 929);
})();
</script>
</body>
</html>
